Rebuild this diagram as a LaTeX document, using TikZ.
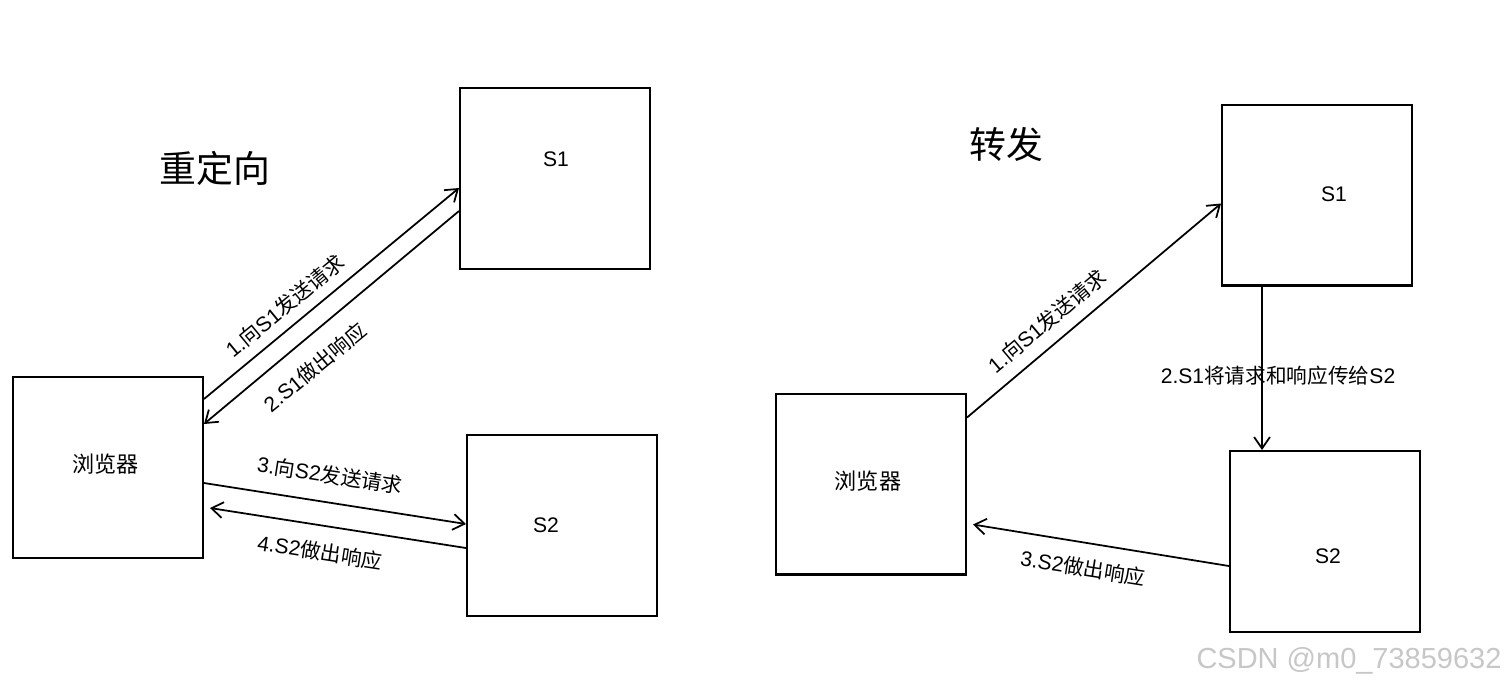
\documentclass[tikz,border=0pt]{standalone}
\usepackage{fontspec}
\setmainfont{Liberation Sans}
\newfontfamily\cjk[Scale=0.98]{Noto Sans CJK SC}
\newfontfamily\cjkbox[Scale=1.05]{Noto Sans CJK SC}
\newfontfamily\cjktitle{Noto Sans CJK SC}
\usetikzlibrary{arrows.meta,calc}
\begin{document}
\begin{tikzpicture}[x=0.02cm,y=-0.02cm,
  boxnode/.style={draw=black,line width=1.15pt,minimum width=3.8cm,minimum height=3.62cm,inner sep=0pt},
  boxtext/.style={font=\fontsize{12}{14}\selectfont,inner sep=0pt},
  edgetext/.style={font=\fontsize{12}{14}\selectfont,inner sep=0pt},
  titletext/.style={font=\fontsize{21}{24}\selectfont\cjktitle,inner sep=0pt},
  conn/.style={line width=1pt,-{Straight Barb[length=6.5pt,width=9pt,line width=1pt]}}
]
\useasboundingbox (0,0) rectangle (1510,687);

% ---------- left: redirect ----------
\node[titletext] (t1) at (215,168) {重定向};
\node[boxnode] (s1) at (555,178.5) {};
\node[boxnode] (br) at (108,467.5) {};
\node[boxnode] (s2) at (562,525.5) {};
\node[boxtext] (s1t) at (556,159) {S1};
\node[boxtext] (brt) at (105.5,464) {\cjkbox 浏览器};
\node[boxtext] (s2t) at (546,525) {S2};

\draw[conn] ($(br.north east)+(0,23)$) -- ($(s1.north west)+(0,101)$);
\draw[conn] ($(s1.north west)+(0,124)$) -- ($(br.north east)+(0,48)$);
\draw[conn] ($(br.north east)+(0,107)$) -- ($(s2.north west)+(0,90)$);
\draw[conn] ($(s2.north west)+(0,114)$) -- ($(br.north east)+(6,132)$);

\node[edgetext,rotate=39.5] (l1) at (285,306) {1.{\cjk 向}S1{\cjk 发送请求}};
\node[edgetext,rotate=39.5] (l2) at (315,367) {2.S1{\cjk 做出响应}};
\node[edgetext,rotate=-8.8] (l3) at (330,475) {3.{\cjk 向}S2{\cjk 发送请求}};
\node[edgetext,rotate=-8.8] (l4) at (320,552) {4.S2{\cjk 做出响应}};

% ---------- right: forward ----------
\node[titletext] (t2) at (1006,144) {转发};
\node[boxnode] (rs1) at (1317,195) {};
\node[boxnode] (rb) at (871,484) {};
\node[boxnode] (rs2) at (1325,541.5) {};
\node[boxtext] (rs1t) at (1334,194) {S1};
\node[boxtext] (rbt) at (868,481) {\cjkbox 浏览器};
\node[boxtext] (rs2t) at (1328,556) {S2};

\draw[conn] ($(rb.north east)+(0,25)$) -- ($(rs1.north west)+(0,100)$);
\coordinate (r2s) at ($(rs1.south west)+(41,0)$);
\draw[conn] (r2s) -- (r2s |- rs2.north);
\draw[conn] ($(rs2.north west)+(0,116)$) -- ($(rb.north east)+(6,132)$);

\node[edgetext,rotate=40] (r1) at (1047,321) {1.{\cjk 向}S1{\cjk 发送请求}};
\node[edgetext] (r2) at (1278,376) {2.S1{\cjk 将请求和响应传给}S2};
\node[edgetext,rotate=-9] (r3) at (1083,568) {3.S2{\cjk 做出响应}};

% watermark
\node[font=\fontsize{16.5}{19}\selectfont,text=black!22,inner sep=0pt] (wm) at (1349,661) {CSDN @m0\_73859632};
\end{tikzpicture}
\end{document}
